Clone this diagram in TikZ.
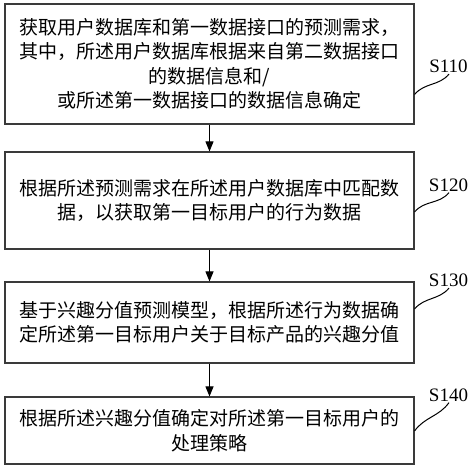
\documentclass[tikz,border=0pt]{standalone}
\usepackage{fontspec}
\setmainfont{Liberation Serif}
\newfontfamily\cjk{Noto Sans CJK SC}
\usetikzlibrary{arrows.meta}
\definecolor{boxline}{HTML}{3A3A3A}

\begin{document}
\begin{tikzpicture}[
    x=1pt, y=1pt,
    every node/.style={inner sep=0pt},
    stepbox/.style={draw=boxline, line width=1.1pt, minimum width=409pt, align=center, font=\cjk\fontsize{19pt}{24.5pt}\selectfont},
    steplabel/.style={font=\fontsize{19pt}{21pt}\selectfont},
    flow/.style={-{Triangle[width=8pt,length=10pt]}, line width=0.9pt, black},
    lead/.style={line width=1pt, black}
]
\useasboundingbox (0,0) rectangle (474,-470);

% Step boxes
\node[stepbox, minimum height=120pt] (s110) at (209.5,-64) {%
    获取用户数据库和第一数据接口的预测需求，\\
    其中，所述用户数据库根据来自第二数据接口\\
    的数据信息和/\\
    或所述第一数据接口的数据信息确定};
\node[stepbox, minimum height=97pt] (s120) at (209.5,-200.5) {%
    根据所述预测需求在所述用户数据库中匹配数\\
    据，以获取第一目标用户的行为数据};
\node[stepbox, minimum height=81pt] (s130) at (209.5,-322.5) {%
    基于兴趣分值预测模型，根据所述行为数据确\\
    定所述第一目标用户关于目标产品的兴趣分值};
\node[stepbox, minimum height=67pt] (s140) at (209.5,-430.5) {%
    根据所述兴趣分值确定对所述第一目标用户的\\
    处理策略};

% Step labels
\node[steplabel] (l110) at (448.5,-66.5) {S110};
\node[steplabel] (l120) at (448.5,-185) {S120};
\node[steplabel] (l130) at (448.5,-280.5) {S130};
\node[steplabel] (l140) at (448.5,-395) {S140};

% Flow arrows
\draw[flow] (s110) -- (s120);
\draw[flow] (s120) -- (s130);
\draw[flow] (s130) -- (s140);

% Leader curves
\draw[lead] ([yshift=-30.5pt]s110.east) .. controls +(10,12) and +(-10,-12) .. ([xshift=0.5pt,yshift=-1pt]l110.south);
\draw[lead] ([yshift=-11.5pt]s120.east) .. controls +(10,12) and +(-10,-12) .. ([xshift=0.5pt,yshift=-1pt]l120.south);
\draw[lead] ([yshift=13.5pt]s130.east) .. controls +(10,12) and +(-10,-12) .. ([xshift=0.5pt,yshift=-1pt]l130.south);
\draw[lead] ([yshift=-0.5pt]s140.east) .. controls +(10,14) and +(-10,-14) .. ([xshift=0.5pt,yshift=-1pt]l140.south);

\end{tikzpicture}
\end{document}
